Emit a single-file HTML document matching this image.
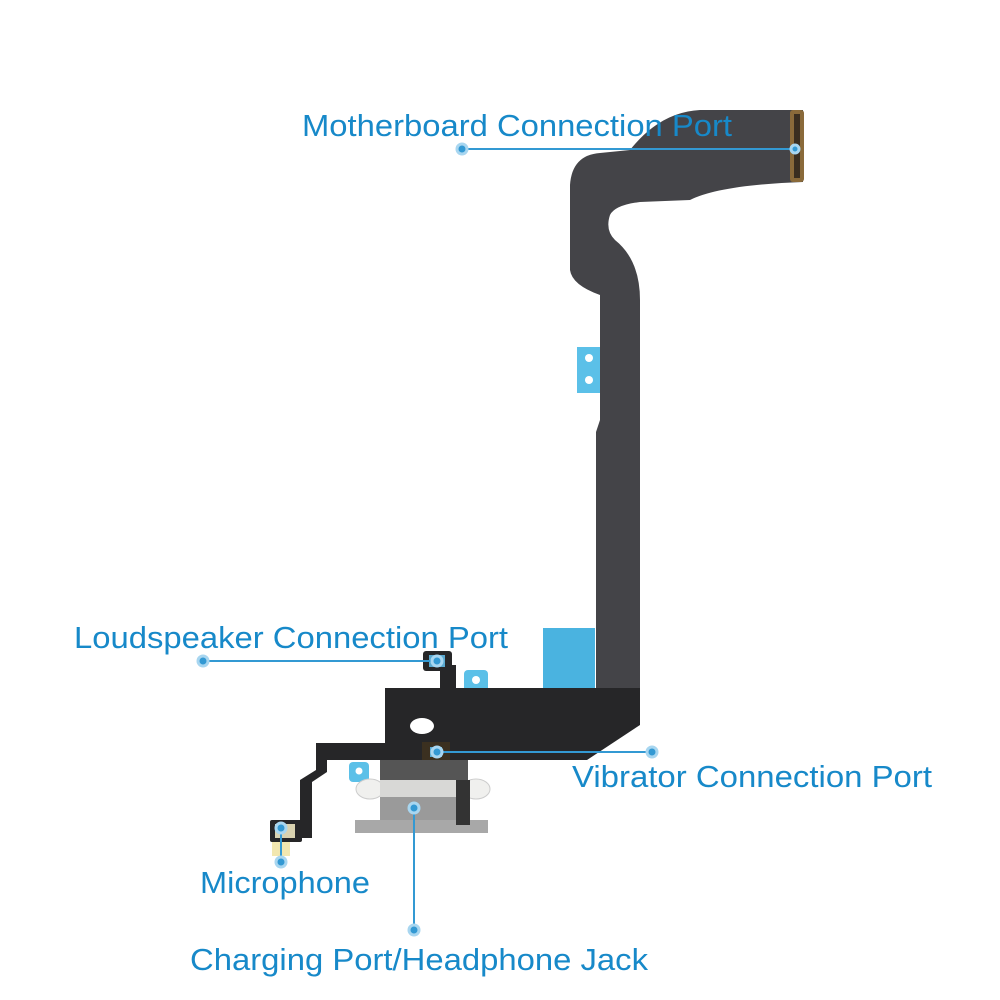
<!DOCTYPE html>
<html><head><meta charset="utf-8"><style>
html,body{margin:0;padding:0;background:#fff}
svg{display:block}
text{font-family:"Liberation Sans",Arial,sans-serif;fill:#1789c9}
</style></head><body>
<svg width="1000" height="1000" viewBox="0 0 1000 1000" xmlns="http://www.w3.org/2000/svg">
<rect x="577" y="347" width="26" height="46" fill="#5bc0e8"/>
<circle cx="589" cy="358" r="4" fill="#fff"/><circle cx="589" cy="380" r="4" fill="#fff"/>
<rect x="543" y="628" width="52" height="62" fill="#4ab3e0"/>
<rect x="464" y="670" width="24" height="24" rx="4" fill="#5bc0e8"/>
<circle cx="476" cy="680" r="4" fill="#fff"/>
<rect x="349" y="762" width="20" height="20" rx="4" fill="#5bc0e8"/>
<circle cx="359" cy="771" r="3.5" fill="#fff"/>
<path d="M803,110 L700,110 Q660,112 630,150 L600,153 Q572,155 570,185 L570,270 Q572,285 600,295 L600,420 L596,432 L596,690 L640,690 L640,300 Q640,260 615,240 Q605,230 610,215 Q615,205 640,202 L690,200 Q720,185 803,182 Z" fill="#444448"/>
<rect x="790" y="110" width="14" height="72" rx="3" fill="#8a6a3a"/>
<rect x="794" y="114" width="6" height="64" fill="#3a2e20"/>
<path d="M596,688 L385,688 L385,743 L316,743 L316,772 L327,772 L327,760 L587,760 L640,725 L640,688 Z" fill="#262628"/>
<rect x="440" y="665" width="16" height="25" fill="#262628"/>
<rect x="423" y="651" width="29" height="20" rx="3" fill="#262628"/>
<rect x="429" y="655" width="16" height="12" fill="#5aa9d0"/>
<ellipse cx="422" cy="726" rx="12" ry="8" fill="#fff"/>
<path d="M316,770 L300,780 L300,838 L312,838 L312,782 L327,772 Z" fill="#262628"/>
<rect x="270" y="820" width="32" height="22" rx="2" fill="#262628"/>
<rect x="275" y="824" width="20" height="14" fill="#d9d2b0"/>
<rect x="272" y="842" width="18" height="14" fill="#f2e7b0"/>
<rect x="422" y="742" width="28" height="20" fill="#3b3020"/>
<rect x="430" y="747" width="12" height="10" fill="#5aa9d0"/>
<rect x="380" y="760" width="88" height="24" fill="#555"/>
<ellipse cx="370" cy="789" rx="14" ry="10" fill="#f0f0ee" stroke="#ccc"/>
<ellipse cx="476" cy="789" rx="14" ry="10" fill="#f0f0ee" stroke="#ccc"/>
<rect x="380" y="780" width="90" height="18" fill="#d8d8d6"/>
<rect x="380" y="797" width="86" height="26" fill="#9a9a9a"/>
<rect x="355" y="820" width="133" height="13" fill="#a8a8a8"/>
<rect x="456" y="780" width="14" height="45" fill="#333"/>
<g stroke="#3399d3" stroke-width="2" fill="none">
<line x1="462" y1="149" x2="795" y2="149"/>
<line x1="203" y1="661" x2="436" y2="661"/>
<line x1="437" y1="752" x2="652" y2="752"/>
<line x1="281" y1="828" x2="281" y2="862"/>
<line x1="414" y1="808" x2="414" y2="930"/>
</g>
<g fill="#3399d3" stroke="#a8d6f0" stroke-width="3">
<circle cx="462" cy="149" r="5"/><circle cx="795" cy="149" r="4"/>
<circle cx="203" cy="661" r="5"/><circle cx="437" cy="661" r="5"/>
<circle cx="437" cy="752" r="5"/><circle cx="652" cy="752" r="5"/>
<circle cx="281" cy="828" r="5"/><circle cx="281" cy="862" r="5"/>
<circle cx="414" cy="808" r="5"/><circle cx="414" cy="930" r="5"/>
</g>
<text x="302" y="136" font-size="31" textLength="430" lengthAdjust="spacingAndGlyphs">Motherboard Connection Port</text>
<text x="74" y="648" font-size="31" textLength="434" lengthAdjust="spacingAndGlyphs">Loudspeaker Connection Port</text>
<text x="572" y="787" font-size="31" textLength="360" lengthAdjust="spacingAndGlyphs">Vibrator Connection Port</text>
<text x="200" y="893" font-size="31" textLength="170" lengthAdjust="spacingAndGlyphs">Microphone</text>
<text x="190" y="970" font-size="31" textLength="458" lengthAdjust="spacingAndGlyphs">Charging Port/Headphone Jack</text>
</svg>
</body></html>
